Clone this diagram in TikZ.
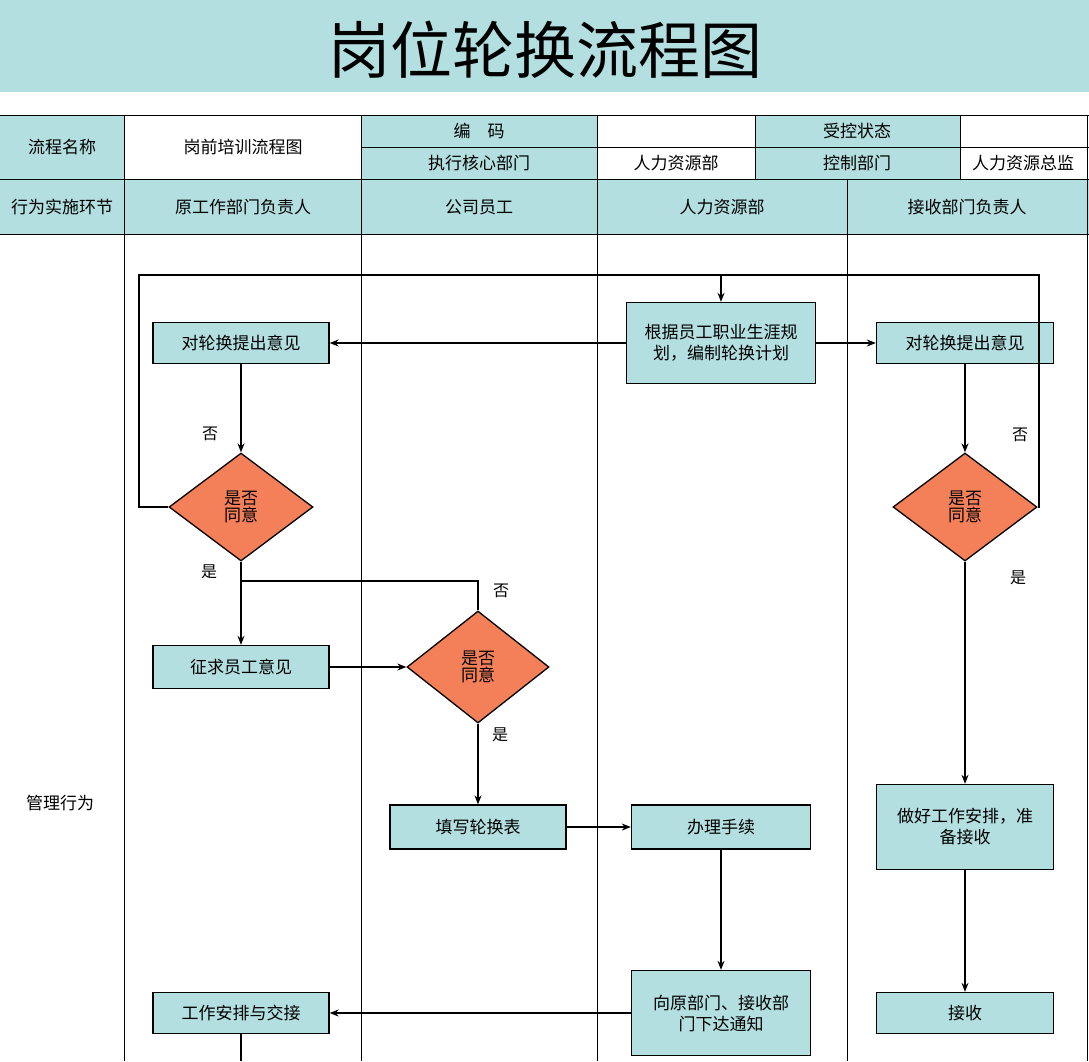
\documentclass[tikz,border=0pt]{standalone}
\usepackage{fontspec}
\setmainfont{Noto Sans CJK SC}
\usetikzlibrary{shapes.geometric,arrows.meta}
\definecolor{teal}{HTML}{B3DFE0}
\definecolor{org}{HTML}{F4805A}
\begin{document}
\begin{tikzpicture}[x=1pt,y=-1pt,
 cell/.style={draw=black,line width=0.6pt},
 hd/.style={font=\fontsize{17}{20}\selectfont},
 box/.style={draw=black,line width=1.3pt,fill=teal,align=center,font=\fontsize{17}{21}\selectfont,inner sep=0pt},
 dia/.style={diamond,draw=black,line width=1.3pt,fill=org,aspect=1.33,inner sep=0pt,minimum width=144pt,minimum height=108pt,align=center,font=\fontsize{17}{15}\selectfont},
 ar/.style={line width=1.3pt,-{Stealth[length=9pt,width=7pt]}},
 ln/.style={line width=1.3pt},
 lb/.style={font=\fontsize{16}{18}\selectfont}]
\useasboundingbox (0,0) rectangle (1089,1061);
\fill[teal] (0,0) rectangle (1089,92);
\node (title) at (545,50) {\fontsize{62}{70}\selectfont 岗位轮换流程图};
% header table
\fill[teal] (0,115) rectangle (124,179);
\fill[teal] (361,115) rectangle (597,179);
\fill[teal] (755,115) rectangle (960,179);
\fill[teal] (0,179) rectangle (1089,234);
\draw[cell] (0,115) -- (1089,115) (0,179) -- (1089,179) (0,234) -- (1089,234);
\draw[cell] (361,147) -- (1089,147);
\draw[cell] (124,115) -- (124,1061) (361,115) -- (361,1061) (597,115) -- (597,1061);
\draw[cell] (755,115) -- (755,179) (960,115) -- (960,179) (847,179) -- (847,1061) (1087,115) -- (1087,1061);
\node[hd] (h1) at (62,147) {流程名称};
\node[hd] (h2) at (243,147) {岗前培训流程图};
\node[hd] (h3) at (479,131) {编\quad 码};
\node[hd] (h4) at (479,163) {执行核心部门};
\node[hd] (h5) at (676,163) {人力资源部};
\node[hd] (h6) at (857,131) {受控状态};
\node[hd] (h7) at (857,163) {控制部门};
\node[hd] (h8) at (1023,163) {人力资源总监};
\node[hd] (l0) at (62,207) {行为实施环节};
\node[hd] (l1) at (243,207) {原工作部门负责人};
\node[hd] (l2) at (479,207) {公司员工};
\node[hd] (l3) at (722,207) {人力资源部};
\node[hd] (l4) at (967,207) {接收部门负责人};
\node[hd] (mg) at (60,803) {管理行为};
% nodes
\node[box,minimum width=189pt,minimum height=81pt] (plan) at (721,343) {根据员工职业生涯规\\划，编制轮换计划};
\node[box,minimum width=176pt,minimum height=41pt] (op1) at (241,343) {对轮换提出意见};
\node[box,minimum width=177pt,minimum height=41pt] (op2) at (965,343) {对轮换提出意见};
\node[dia] (d1) at (241,507) {是否\\同意};
\node[dia] (d2) at (965,507) {是否\\同意};
\node[box,minimum width=176pt,minimum height=43pt] (ask) at (241,667) {征求员工意见};
\node[dia,minimum width=142pt,minimum height=112pt] (d3) at (478,667) {是否\\同意};
\node[box,minimum width=176pt,minimum height=44pt] (fill) at (478,827) {填写轮换表};
\node[box,minimum width=179pt,minimum height=44pt] (proc) at (721,827) {办理手续};
\node[box,minimum width=177pt,minimum height=85pt] (prep) at (965,827) {做好工作安排，准\\备接收};
\node[box,minimum width=179pt,minimum height=85pt] (notify) at (721,1013) {向原部门、接收部\\门下达通知};
\node[box,minimum width=176pt,minimum height=41pt] (work) at (241,1013) {工作安排与交接};
\node[box,minimum width=177pt,minimum height=41pt] (recv) at (965,1013) {接收};
\coordinate (tl) at (139,275);
\coordinate (tr) at (1039,275);
\coordinate (tm) at (721,275);
\coordinate (jn) at (241,581);
\coordinate (jr) at (478,581);
\coordinate (wend) at (241,1061);
% connectors
\draw[ar] (plan.west) -- (op1.east);
\draw[ar] (plan.east) -- (op2.west);
\draw[ar] (op1) -- (d1.north);
\draw[ar] (op2) -- (d2.north);
\draw[ln] (d1.west) -| (tl) -- (tr) |- (d2.east);
\draw[ar] (tm) -- (plan.north);
\draw[ar] (d1.south) -- (ask.north);
\draw[ln] (d3.north) -- (jr) -- (jn);
\draw[ar] (ask.east) -- (d3.west);
\draw[ar] (d3.south) -- (fill.north);
\draw[ar] (fill.east) -- (proc.west);
\draw[ar] (proc.south) -- (notify.north);
\draw[ar] (notify.west) -- (work.east);
\draw[ln] (work.south) -- (wend);
\draw[ar] (d2.south) -- (prep.north);
\draw[ar] (prep.south) -- (recv.north);
\node[lb] at (210,434) {否};
\node[lb] at (1020,435) {否};
\node[lb] at (209,572) {是};
\node[lb] at (501,591) {否};
\node[lb] at (500,735) {是};
\node[lb] at (1018,578) {是};
\end{tikzpicture}
\end{document}
